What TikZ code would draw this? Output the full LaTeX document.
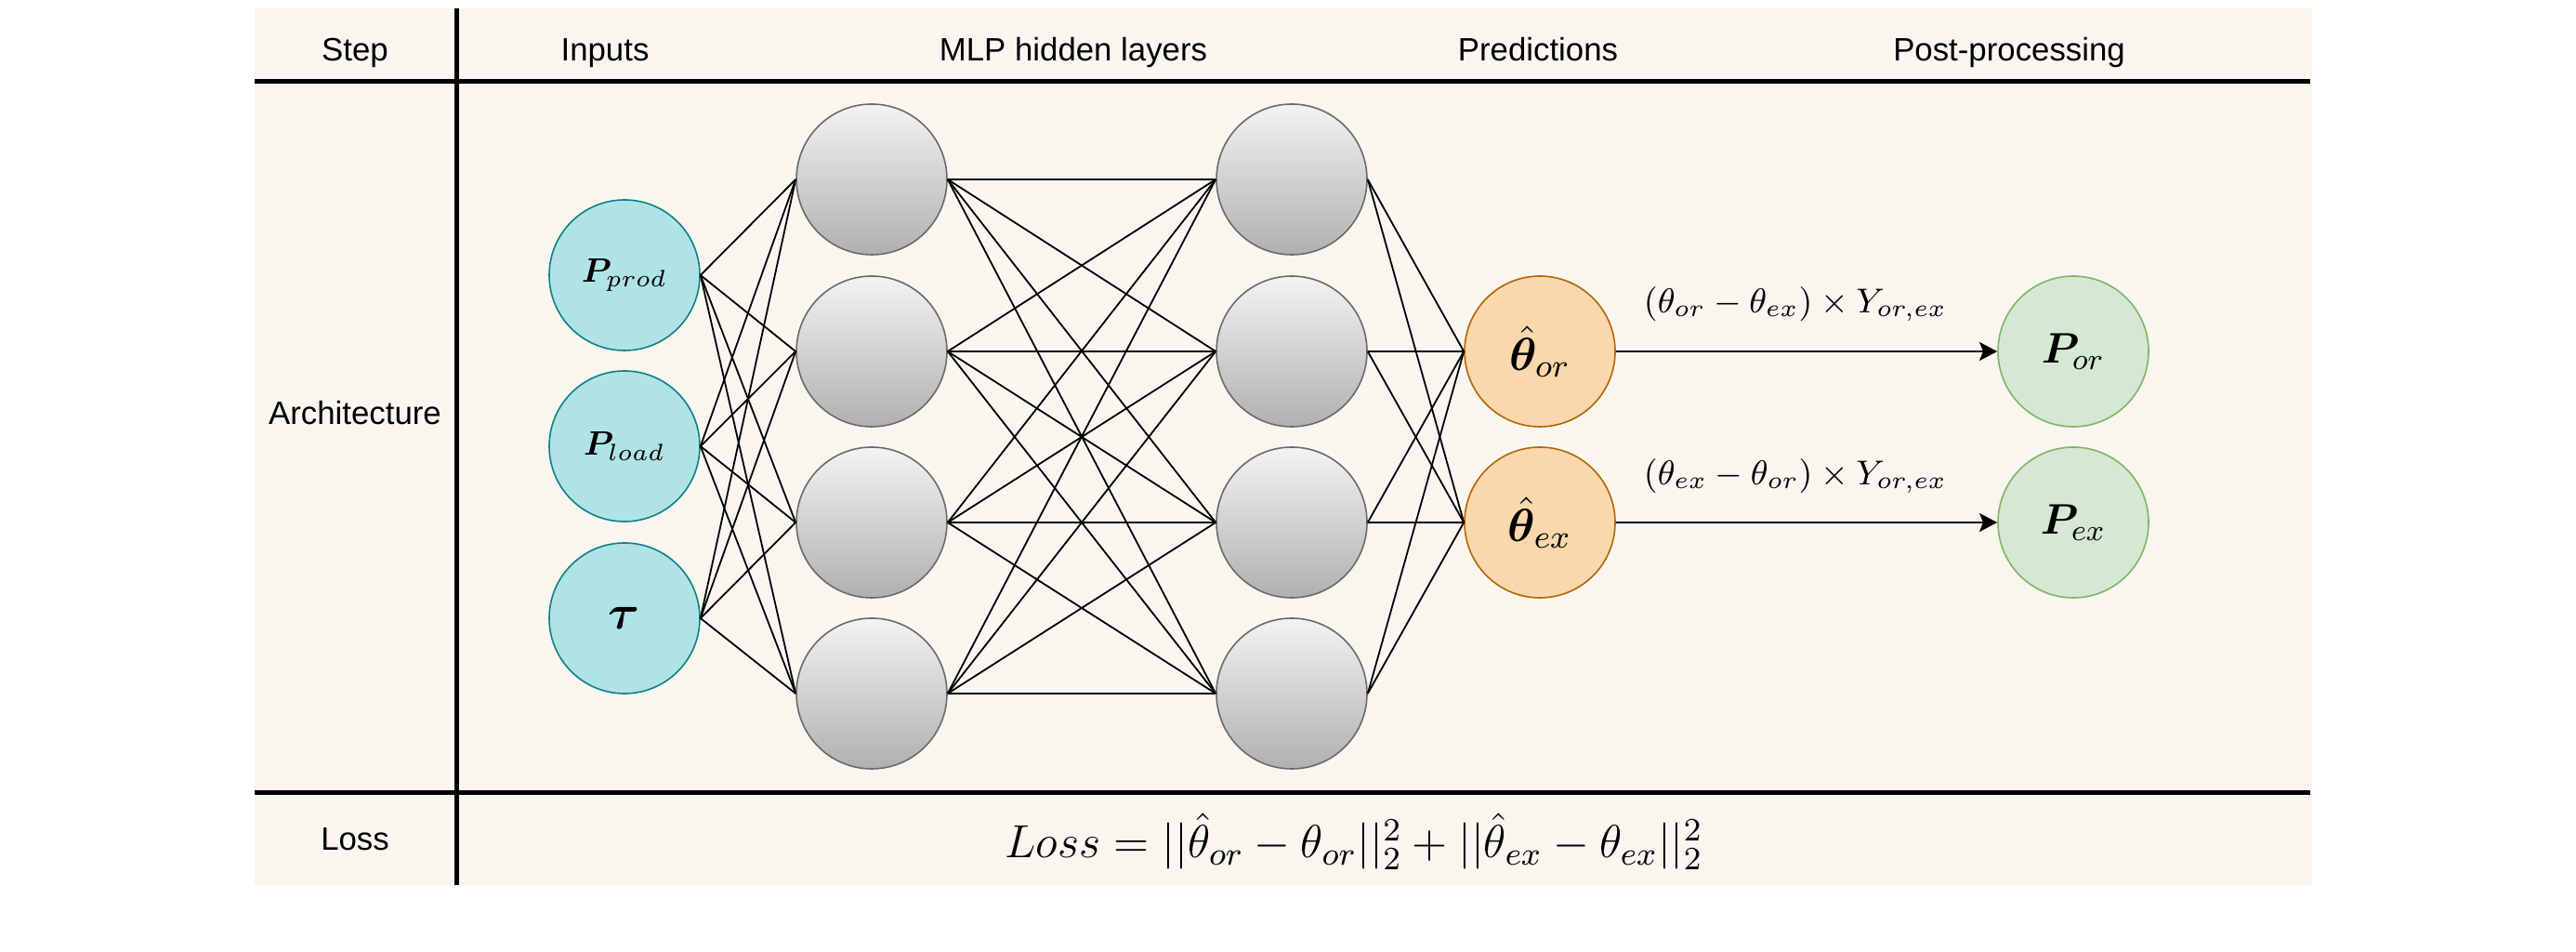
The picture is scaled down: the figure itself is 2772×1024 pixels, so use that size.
\RequirePackage{fix-cm}
\documentclass[tikz,border=0pt]{standalone}
\usepackage{amsmath}
\usepackage{bm}
\usepackage[no-math]{fontspec}
\setmainfont{Liberation Sans}
\usetikzlibrary{arrows.meta}
\definecolor{bgc}{HTML}{F8F6EE}
\definecolor{tealfill}{HTML}{B0E3E6}
\definecolor{tealdraw}{HTML}{0E8088}
\definecolor{orfill}{HTML}{FAD7AC}
\definecolor{ordraw}{HTML}{B46504}
\definecolor{grfill}{HTML}{D5E8D4}
\definecolor{grdraw}{HTML}{82B366}
\definecolor{hiddraw}{HTML}{6A6A6A}
\definecolor{hidtop}{HTML}{F3F3F3}
\definecolor{hidbot}{HTML}{B0B0B0}
\tikzset{
  tbl/.style={line width=1.25pt, black},
  hdr/.style={font=\fontsize{8.7}{10}\selectfont, inner sep=0pt, anchor=base},
  neuron/.style={circle, minimum size=40.5pt, inner sep=0pt, line width=0.4pt},
  inp/.style={neuron, draw=tealdraw, fill=tealfill, font=\fontsize{9.1}{11}\selectfont},
  hid/.style={neuron, draw=hiddraw, top color=hidtop, bottom color=hidbot},
  pred/.style={neuron, draw=ordraw, fill=orfill, font=\fontsize{12.5}{14}\selectfont},
  post/.style={neuron, draw=grdraw, fill=grfill, font=\fontsize{11.5}{13}\selectfont},
  conn/.style={line width=0.45pt, black},
  arr/.style={line width=0.55pt, black, -{Stealth[length=4.8pt, width=5pt, inset=1pt]}},
  lbl/.style={font=\fontsize{9.3}{11}\selectfont, inner sep=0pt},
}
\begin{document}
\begin{tikzpicture}[x=0.25pt,y=-0.25pt]
\useasboundingbox (0,0) rectangle (2772,1024);
\fill[bgc] (274,9) rectangle (2488,952);
\draw[tbl] (274,88) -- (2486,88);
\draw[tbl] (274,853) -- (2486,853);
\draw[tbl] (491,9) -- (491,952);

\node[hdr] (hStep) at (382,66) {Step};
\node[hdr] (hInp) at (651,66) {Inputs};
\node[hdr] (hMLP) at (1155,66) {MLP hidden layers};
\node[hdr] (hPred) at (1655,66) {Predictions};
\node[hdr] (hPost) at (2162,66) {Post-processing};
\node[hdr] (hArch) at (382,457) {Architecture};
\node[hdr] (hLoss) at (382,915) {Loss};

\node[inp] (i1) at (672,296) {$\bm{P}_{prod}$};
\node[inp] (i2) at (672,480) {$\bm{P}_{load}$};
\node[inp, font=\fontsize{13}{15}\selectfont] (i3) at (672,665) {$\bm{\tau}$};

\foreach \k/\yy in {1/193,2/378,3/562,4/746}{
  \node[hid] (a\k) at (938,\yy) {};
  \node[hid] (b\k) at (1390,\yy) {};
}

\node[pred] (o1) at (1657,378) {$\hat{\bm{\theta}}_{or}$};
\node[pred] (o2) at (1657,562) {$\hat{\bm{\theta}}_{ex}$};
\node[post] (q1) at (2231,378) {$\bm{P}_{or}$};
\node[post] (q2) at (2231,562) {$\bm{P}_{ex}$};

\foreach \i in {1,2,3}{\foreach \j in {1,2,3,4}{\draw[conn] (i\i.east) -- (a\j.west);}}
\foreach \i in {1,2,3,4}{\foreach \j in {1,2,3,4}{\draw[conn] (a\i.east) -- (b\j.west);}}
\foreach \i in {1,2,3,4}{\foreach \j in {1,2}{\draw[conn] (b\i.east) -- (o\j.west);}}

\draw[arr] (o1.east) -- (q1.west);
\draw[arr] (o2.east) -- (q2.west);
\node[lbl] (l1) at (1932,327) {$(\theta_{or}-\theta_{ex})\times Y_{or,ex}$};
\node[lbl] (l2) at (1932,512) {$(\theta_{ex}-\theta_{or})\times Y_{or,ex}$};

\node[font=\fontsize{12.5}{14}\selectfont, inner sep=0pt] (loss) at (1457,905)
  {$Loss=||\hat{\theta}_{or}-\theta_{or}||_2^2+||\hat{\theta}_{ex}-\theta_{ex}||_2^2$};
\end{tikzpicture}
\end{document}
